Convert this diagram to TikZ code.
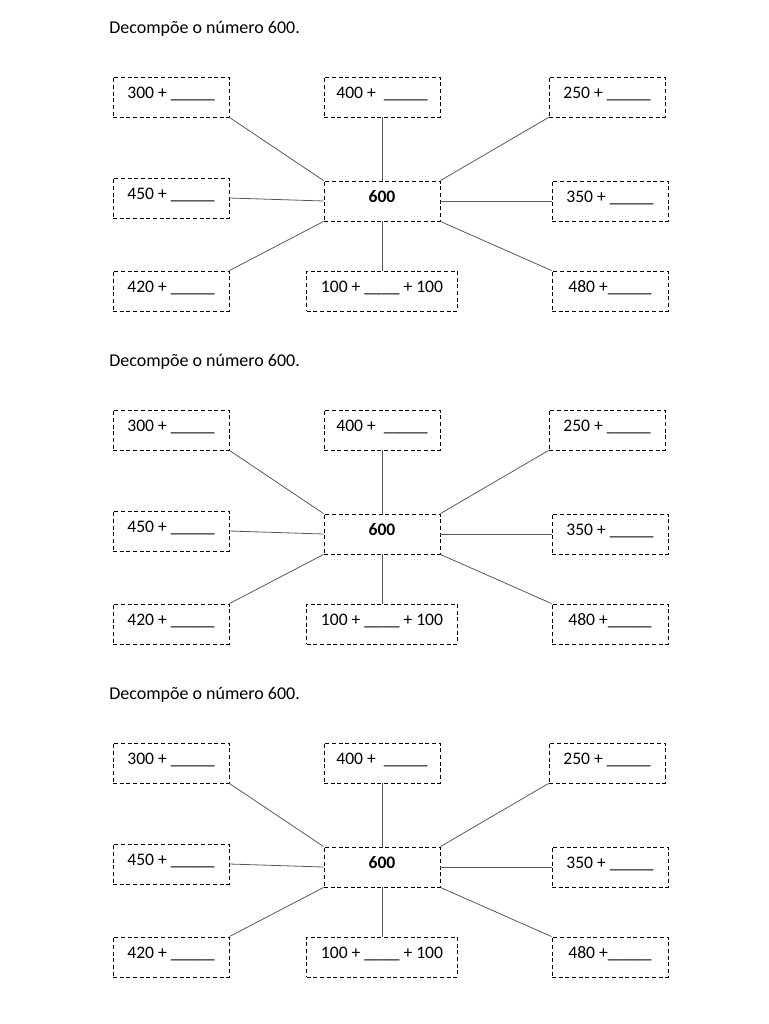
\documentclass[tikz,border=0pt]{standalone}
\usepackage{fontspec}
\setmainfont{Carlito}
\begin{document}
\begin{tikzpicture}[x=0.75pt,y=-0.75pt,
	box/.style={draw,dash pattern=on 3pt off 2pt,line width=0.7pt,minimum width=87pt,minimum height=30pt,inner sep=0pt,text height=7.5pt,text depth=5pt,font=\fontsize{13.2}{15}\selectfont},
	link/.style={draw=black!65,line width=0.6pt}]
	\useasboundingbox (0,0) rectangle (768,1024);
	\foreach \k/\oy in {1/0,2/333,3/666}{
	\node[anchor=west,inner sep=0pt,font=\fontsize{13.5}{16}\selectfont] (t\k) at (109,29+\oy) {Decompõe o número 600.};
	\node[box] (c\k) at (382,201+\oy) {\textbf{600}};
	\node[box] (a\k) at (171,97+\oy) {300 + \_\_\_\_\_};
	\node[box] (b\k) at (382,97+\oy) {400 +\ \ \_\_\_\_\_};
	\node[box] (d\k) at (607,97+\oy) {250 + \_\_\_\_\_};
	\node[box] (e\k) at (171,198+\oy) {450 + \_\_\_\_\_};
	\node[box] (f\k) at (610,201+\oy) {350 + \_\_\_\_\_};
	\node[box] (g\k) at (171,291+\oy) {420 + \_\_\_\_\_};
	\node[box,minimum width=113pt] (h\k) at (382,291+\oy) {100 + \_\_\_\_ + 100};
	\node[box] (i\k) at (610,291+\oy) {480 +\_\_\_\_\_};
	\draw[link] (a\k.south east) -- (c\k.north west);
	\draw[link] (b\k.south) -- (c\k.north);
	\draw[link] (d\k.south west) -- (c\k.north east);
	\draw[link] (e\k.east) -- (c\k.west);
	\draw[link] (f\k.west) -- (c\k.east);
	\draw[link] (g\k.north east) -- (c\k.south west);
	\draw[link] (h\k.north) -- (c\k.south);
	\draw[link] (i\k.north west) -- (c\k.south east);
	}
\end{tikzpicture}
\end{document}
